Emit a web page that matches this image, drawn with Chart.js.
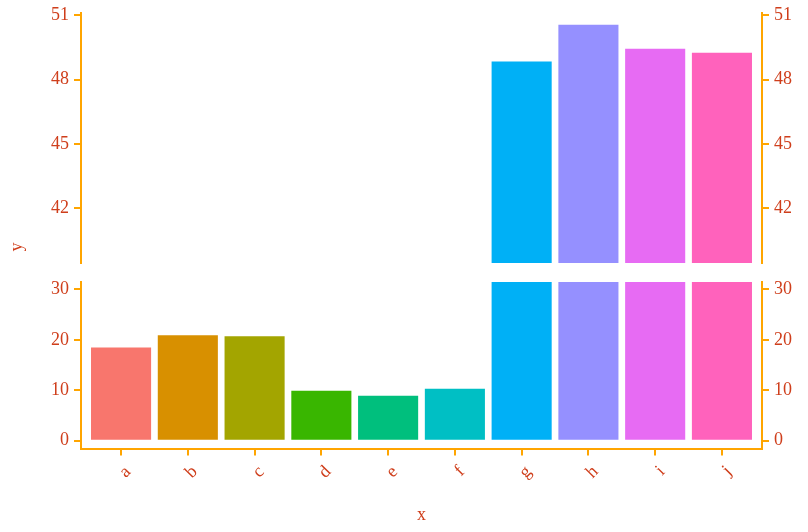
<!DOCTYPE html>
<html>
<head>
<meta charset="utf-8">
<script src="https://cdn.jsdelivr.net/npm/chart.js@4/dist/chart.umd.min.js"></script>
<style>
  html, body { margin: 0; padding: 0; background: #ffffff; }
  #wrap { position: relative; width: 808px; height: 532px; }
  #top { position: absolute; left: 0; top: 0; }
  #bot { position: absolute; left: 0; top: 270px; }
</style>
</head>
<body>
<div id="wrap">
  <canvas id="top" width="808" height="270"></canvas>
  <canvas id="bot" width="808" height="262"></canvas>
</div>
<script>
const categories = ['a','b','c','d','e','f','g','h','i','j'];
const values = [18.5, 20.9, 20.7, 9.9, 8.9, 10.3, 48.84, 50.55, 49.43, 49.25];
const barColors = ['#F8766D','#D89000','#A3A500','#39B600','#00BF7D','#00BFC4','#00B0F6','#9590FF','#E76BF3','#FF62BC'];
const topTicks = [42, 45, 48, 51];
const bottomTicks = [0, 10, 20, 30];
const topRange = [39.46, 51.1];
const bottomRange = [-1.55, 31.47];
const xRange = [0.4, 10.6];

const textColor = '#CF3E1B';
const axisColor = '#FFA500';
const fontFamily = '"Liberation Serif", "Times New Roman", serif';

const points = categories.map((c, i) => ({ x: i + 1, y: values[i] }));

function yAxis(pos, range, ticks, width) {
  return {
    type: 'linear',
    position: pos,
    min: range[0],
    max: range[1],
    afterBuildTicks: s => { s.ticks = ticks.map(v => ({ value: v })); },
    afterFit: s => { s.width = width; s.paddingTop = 0; s.paddingBottom = 0; },
    ticks: { color: textColor, font: { family: fontFamily, size: 18 }, padding: 5 },
    grid: { drawOnChartArea: false, drawTicks: true, tickLength: 7, color: axisColor, lineWidth: 2, offset: false },
    border: { display: true, color: axisColor, width: 2 }
  };
}

function dataset() {
  return {
    data: points,
    backgroundColor: barColors,
    borderWidth: 0,
    barPercentage: 0.9,
    categoryPercentage: 1.0,
    yAxisID: 'y'
  };
}

const yTitlePlugin = {
  id: 'yTitle',
  afterDraw(chart) {
    const ctx = chart.ctx;
    ctx.save();
    ctx.translate(17, 247);
    ctx.rotate(-Math.PI / 2);
    ctx.fillStyle = textColor;
    ctx.font = '18px ' + fontFamily;
    ctx.textAlign = 'center';
    ctx.textBaseline = 'middle';
    ctx.fillText('y', 0, 0);
    ctx.restore();
  }
};

new Chart(document.getElementById('top'), {
  type: 'bar',
  data: { datasets: [dataset()] },
  plugins: [yTitlePlugin],
  options: {
    responsive: false,
    animation: false,
    layout: { padding: { top: 13, bottom: 7, left: 0, right: 0 } },
    plugins: { legend: { display: false }, tooltip: { enabled: false } },
    scales: {
      x: { type: 'linear', min: xRange[0], max: xRange[1], offset: false, display: false },
      y: yAxis('left', topRange, topTicks, 81),
      y2: yAxis('right', topRange, topTicks, 46)
    }
  }
});

new Chart(document.getElementById('bot'), {
  type: 'bar',
  data: { datasets: [dataset()] },
  options: {
    responsive: false,
    animation: false,
    layout: { padding: { top: 12, bottom: 0, left: 0, right: 0 } },
    plugins: { legend: { display: false }, tooltip: { enabled: false } },
    scales: {
      x: {
        type: 'linear',
        min: xRange[0],
        max: xRange[1],
        offset: false,
        afterBuildTicks: s => { s.ticks = categories.map((c, i) => ({ value: i + 1 })); },
        afterFit: s => { s.height = 83.5; s.paddingLeft = 0; s.paddingRight = 0; },
        ticks: {
          color: textColor,
          font: { family: fontFamily, size: 18 },
          minRotation: 45,
          maxRotation: 45,
          padding: 6,
          labelOffset: 7,
          callback: v => categories[v - 1]
        },
        grid: { drawOnChartArea: false, drawTicks: true, tickLength: 7, color: axisColor, lineWidth: 2, offset: false },
        border: { display: true, color: axisColor, width: 2 },
        title: { display: true, text: 'x', color: textColor, font: { family: fontFamily, size: 18 }, padding: { top: 4, bottom: 6 } }
      },
      y: yAxis('left', bottomRange, bottomTicks, 81),
      y2: yAxis('right', bottomRange, bottomTicks, 46)
    }
  }
});
</script>
</body>
</html>
